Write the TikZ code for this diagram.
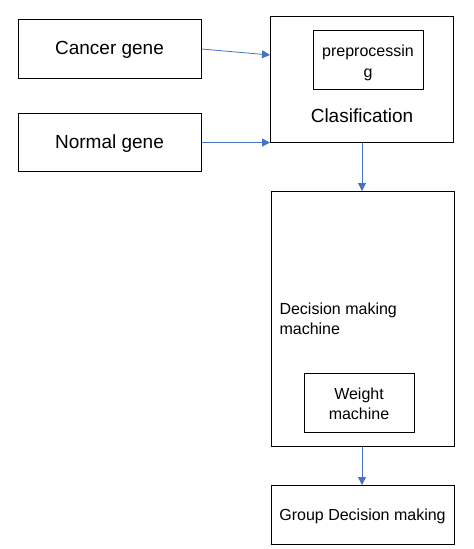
\documentclass[tikz,border=0pt]{standalone}
\usepackage{fontspec}
\setmainfont{Liberation Sans}
\usetikzlibrary{arrows.meta}
\definecolor{arrowblue}{RGB}{68,114,196}
\tikzset{
  box/.style={draw=black, line width=1.1pt, inner sep=0pt},
  conn/.style={draw=arrowblue, line width=0.8pt, -{Triangle[length=8pt,width=8pt]}},
  big/.style={font=\fontsize{19}{22}\selectfont},
  small/.style={font=\fontsize{16}{20}\selectfont},
}
\begin{document}
\begin{tikzpicture}[x=1pt,y=-1pt]
\useasboundingbox (0,0) rectangle (474,549);
% boxes
\node[box, minimum width=183pt, minimum height=59pt, anchor=north west] (cancer) at (18,19) {};
\node[big] (cancert) at (109.5,50) {Cancer gene};
\node[box, minimum width=183pt, minimum height=58pt, anchor=north west] (normal) at (18,113) {};
\node[big] (normalt) at (109.5,144) {Normal gene};
\node[box, minimum width=183pt, minimum height=126pt, anchor=north west] (clas) at (270,16) {};
\node[box, minimum width=110pt, minimum height=59pt, anchor=north west] (pre) at (313,30) {};
\node[align=center, font=\fontsize{16}{21}\selectfont] (pret) at (368,63) {preprocessin\\g};
\node[big] (clast) at (362,116) {Clasification};
\node[box, minimum width=183pt, minimum height=255pt, anchor=north west] (dec) at (271,191) {};
\node[small, align=left, anchor=west] (dect) at (276,319) {Decision making\\machine};
\node[box, minimum width=110pt, minimum height=59pt, anchor=north west] (wgt) at (304,373) {};
\node[align=center, font=\fontsize{16}{20}\selectfont] (wgtt) at (359,404) {Weight\\machine};
\node[box, minimum width=183pt, minimum height=59pt, anchor=north west] (grp) at (271,485) {};
\node[small] (grpt) at (362.5,516) {Group Decision making};
% connectors
\coordinate (c2) at (270,55);
\draw[conn] (cancer.east) -- (c2);
\draw[conn] (normal.east) -- (normal.east -| clas.west);
\draw[conn] (clas.south -| 362,0) -- (dec.north -| 362,0);
\draw[conn] (dec.south -| 362,0) -- (grp.north -| 362,0);
\end{tikzpicture}
\end{document}
